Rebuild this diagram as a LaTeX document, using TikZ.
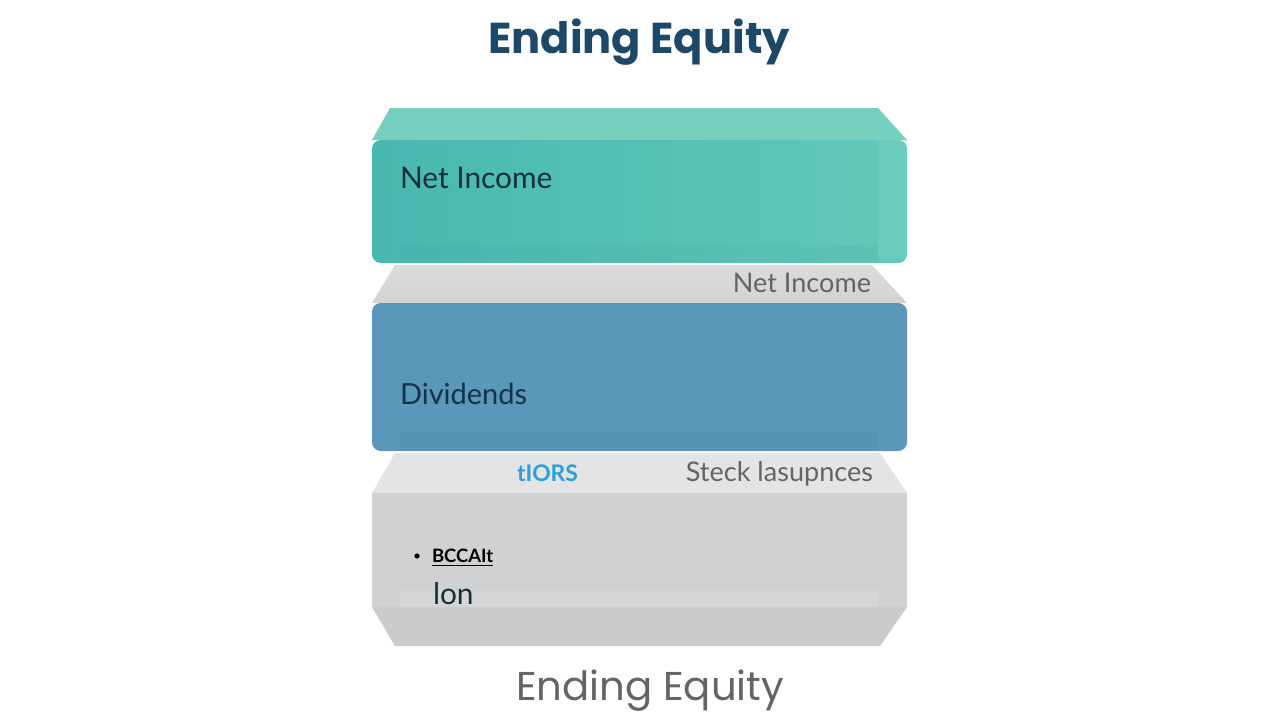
\documentclass[tikz,border=0pt]{standalone}
\usepackage{fontspec}
\setmainfont{Lato}
\newfontfamily\titlefont{Poppins}
\usepackage{xcolor}
\usetikzlibrary{shadings}

\definecolor{tealtop}{HTML}{76D0BD}
\definecolor{tealleft}{HTML}{48B8B0}
\definecolor{tealright}{HTML}{63C9BA}
\definecolor{bluebox}{HTML}{5A97BA}
\definecolor{bluedark}{HTML}{5290B4}
\definecolor{graytop}{HTML}{D3D3D3}
\definecolor{grayface}{HTML}{D0D1D3}
\definecolor{graylight}{HTML}{E4E4E4}
\definecolor{navytext}{HTML}{1D4868}
\definecolor{darklabel}{HTML}{15303A}
\definecolor{midgray}{HTML}{646464}
\definecolor{skyblue}{HTML}{2B9FD8}

\begin{document}
\begin{tikzpicture}[
    x=0.02cm, y=-0.02cm,
    every node/.style={inner sep=0pt, outer sep=0pt},
    boxlabel/.style={anchor=west, font=\fontsize{17}{20}\selectfont, text=darklabel},
    sidelabel/.style={anchor=east, font=\fontsize{15.4}{18}\selectfont, text=midgray}
]
\useasboundingbox (0,0) rectangle (1280,720);

% title
\node (title) at (639,42) {\titlefont\bfseries\fontsize{24.6}{29}\selectfont\color{navytext}Ending Equity};

% top block: net income
\fill[tealtop] (390,108) -- (878,108) -- (907,140) -- (372,140) -- cycle;
\shade[left color=tealleft, right color=tealright, rounded corners=5pt]
    (372,140) rectangle (907,263);
\fill[tealright!80!white, opacity=0.3] (878,140) rectangle (907,258);
\fill[tealleft!90!black, opacity=0.15] (400,245) rectangle (878,262);
\node[boxlabel] (netinc) at (400,178) {Net Income};

% gray band
\shade[top color=graytop!80!white, bottom color=graytop]
    (395,265) -- (872,265) -- (907,303) -- (372,303) -- cycle;
\node[sidelabel] (netinc2) at (871,283) {Net Income};

% middle block: dividends
\fill[bluebox, rounded corners=5pt] (372,303) rectangle (907,451);
\fill[bluedark, opacity=0.4] (400,432) rectangle (878,450);
\node[boxlabel, font=\fontsize{16.5}{20}\selectfont, text=navytext!70!black] (divid) at (400,394) {Dividends};

% bottom block
\fill[graylight] (395,453) -- (880,453) -- (907,493) -- (372,493) -- cycle;
\fill[grayface] (372,493) rectangle (907,607);
\fill[grayface!97!black] (372,607) -- (907,607) -- (880,646) -- (395,646) -- cycle;
\fill[white, opacity=0.1] (400,590) rectangle (878,607);
\node[anchor=west, font=\fontsize{13}{15}\selectfont\bfseries, text=skyblue] (tiors) at (517,473) {tIORS};
\node[sidelabel] (steck) at (873,474) {Steck lasupnces};
\fill[black] (417,556) circle (2.6);
\node[anchor=west, font=\fontsize{10.5}{12}\selectfont\bfseries] (bccait) at (432,558) {\underline{BCCAIt}};
\node[anchor=west, font=\fontsize{17}{20}\selectfont, text=darklabel] (lon) at (433,594) {lon};

% footer
\node (footer) at (650,691) {\titlefont\fontsize{22.9}{27}\selectfont\color{midgray}Ending Equity};
\end{tikzpicture}
\end{document}
